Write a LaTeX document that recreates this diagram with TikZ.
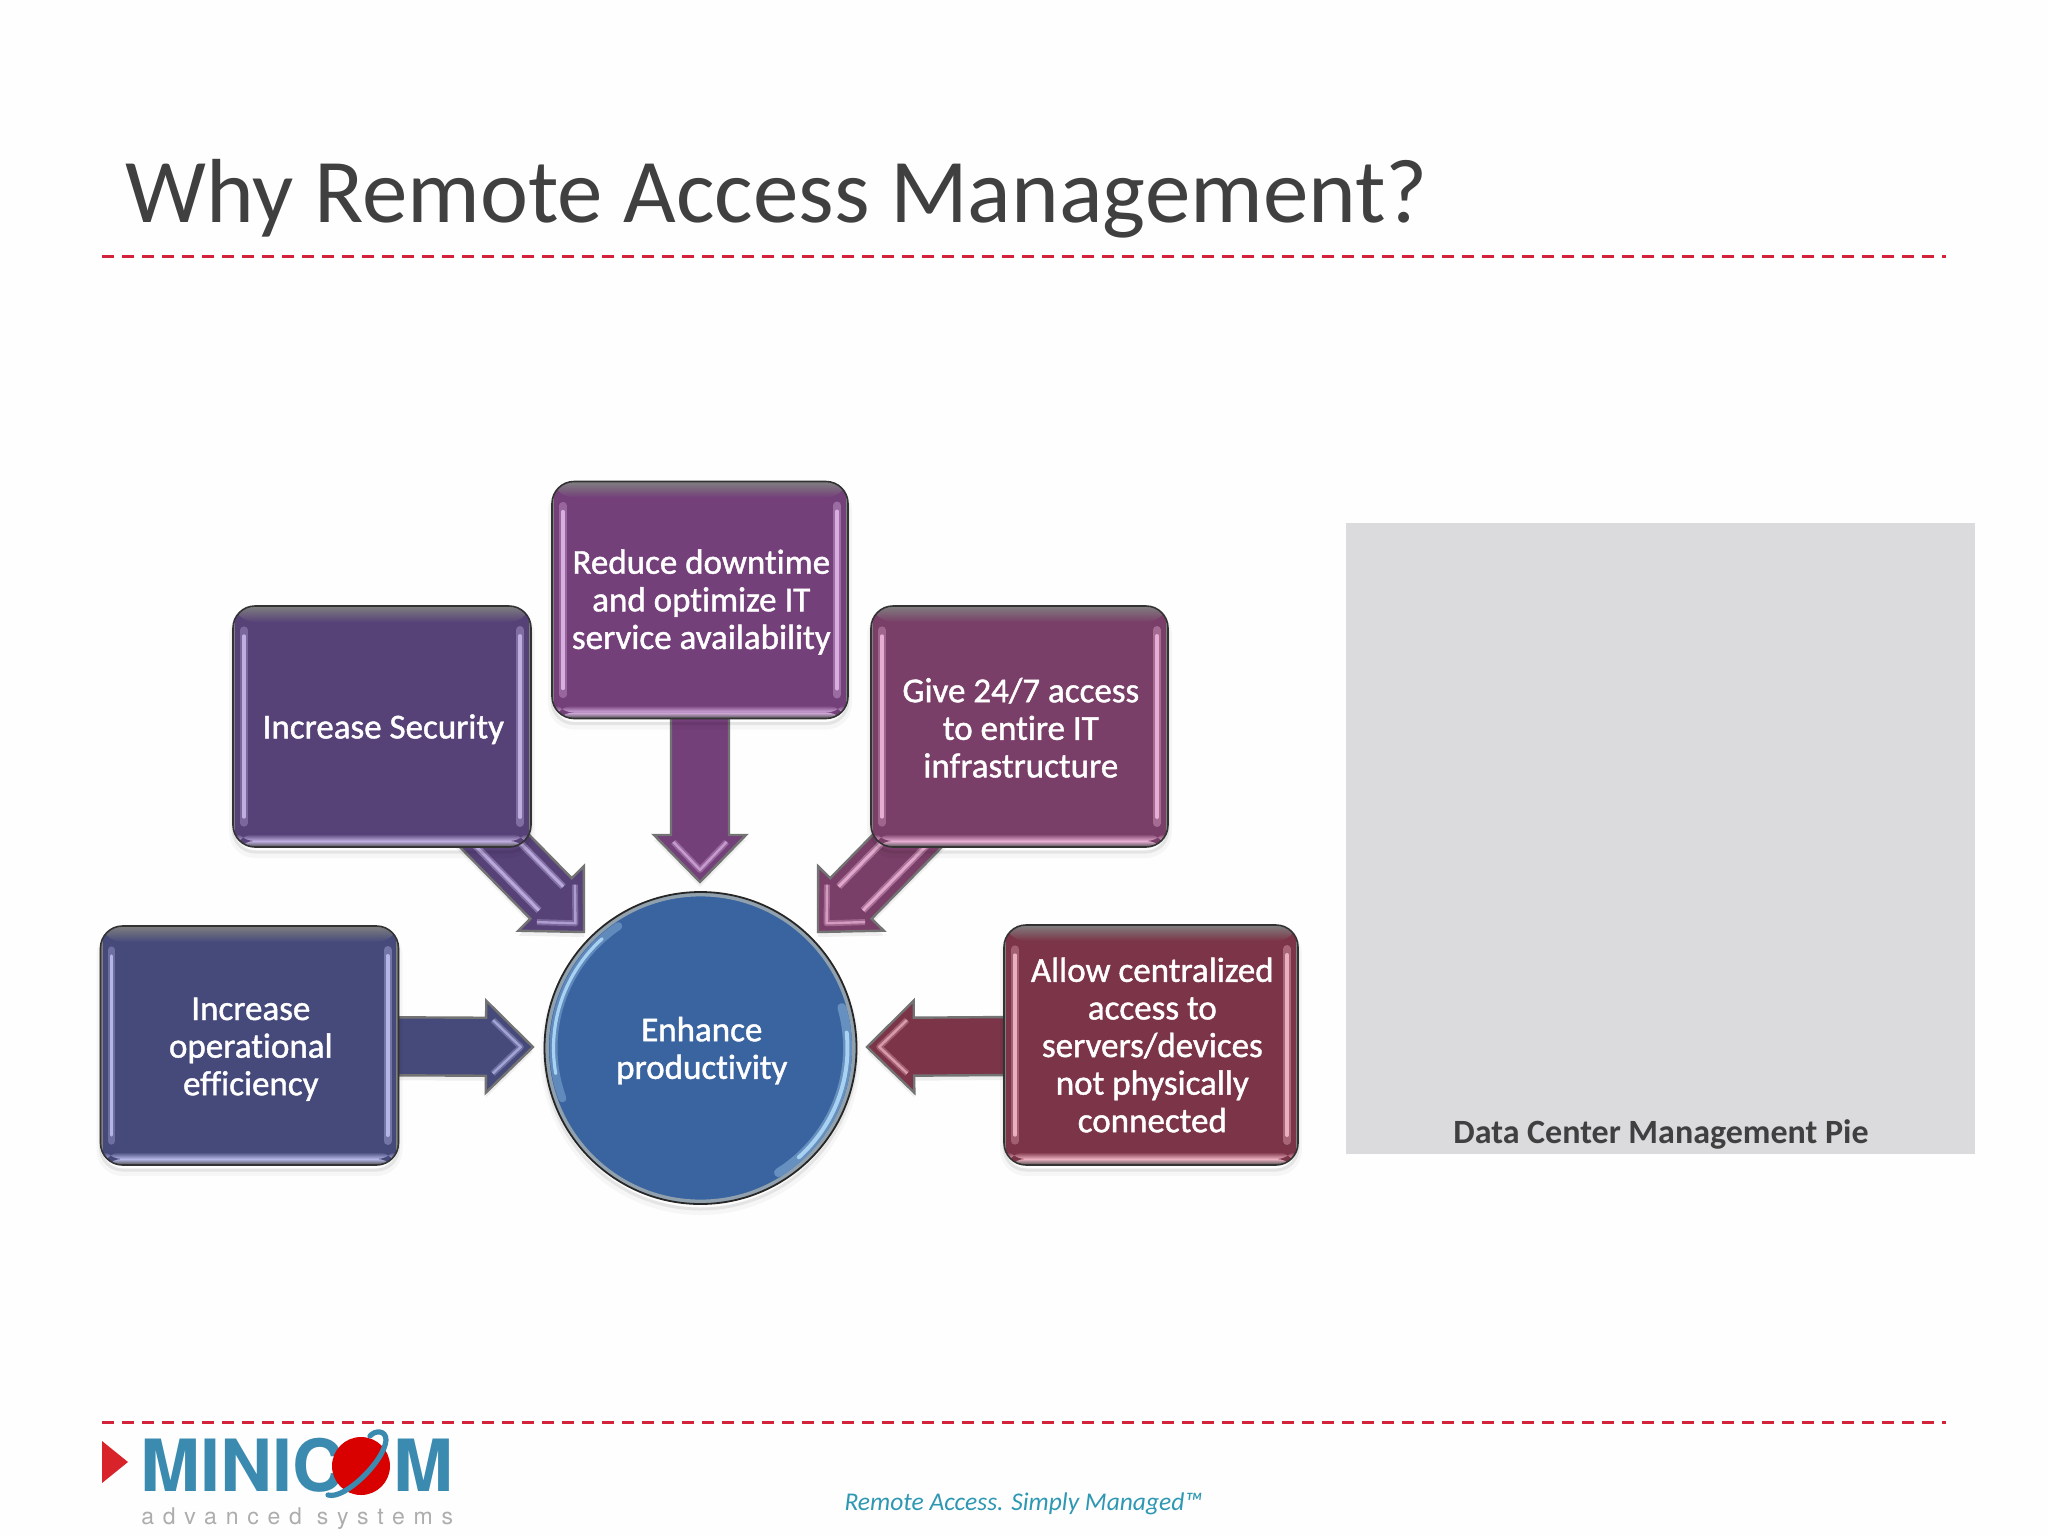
\documentclass[tikz,border=0pt]{standalone}
\usepackage{fontspec}
\setmainfont[RawFeature={-liga}]{Carlito}
\newfontfamily\logofont{TeX Gyre Heros}
\usetikzlibrary{calc}
\definecolor{pagebg}{HTML}{FEFEFE}
\definecolor{titlecol}{HTML}{404040}
\definecolor{dashred}{HTML}{D2233A}
\definecolor{logored}{HTML}{D8232A}
\definecolor{panelgray}{HTML}{DBDADD}
\definecolor{teal}{HTML}{2E98B3}
\definecolor{logoblue}{HTML}{3B8BB0}
\definecolor{effc}{HTML}{464A7A}\definecolor{effl}{HTML}{B4B6E6}
\definecolor{secc}{HTML}{574278}\definecolor{secl}{HTML}{BFAEE0}
\definecolor{topc}{HTML}{74407A}\definecolor{topl}{HTML}{D6AEDF}
\definecolor{givc}{HTML}{7A3F68}\definecolor{givl}{HTML}{E6AED2}
\definecolor{allc}{HTML}{7C3448}\definecolor{alll}{HTML}{EBB0C0}
\definecolor{circ}{HTML}{3A64A0}\definecolor{cirl}{HTML}{A9D2F2}
\tikzset{
  softshadow/.style={
    preaction={draw=black,opacity=.03,line width=4pt,transform canvas={yshift=-3.5pt}},
    preaction={draw=black,opacity=.07,line width=1.5pt,transform canvas={yshift=-2.5pt}}},
  bevelbox/.style 2 args={
    softshadow, rounded corners=11pt, minimum width=#1, minimum height=#2,
    inner sep=0pt, line width=.8pt, draw=black!80},
  boxskin/.style 2 args={fill=#1,
    path picture={
      \coordinate (nw) at (path picture bounding box.north west);
      \coordinate (ne) at (path picture bounding box.north east);
      \coordinate (sw) at (path picture bounding box.south west);
      \coordinate (se) at (path picture bounding box.south east);
      \shade[top color=gray,bottom color=#1] (nw) rectangle ($(ne)+(0,16)$);
      \shade[top color=#1,bottom color=#2] ($(sw)+(0,-13)$) rectangle ($(se)+(0,-6)$);
      \shade[top color=#2,bottom color=black!70] ($(sw)+(0,-6)$) rectangle (se);
      \draw[gray,line width=2.2pt] (nw) -- (sw) (ne) -- (se);
      \draw[#2,opacity=.35,line width=3.6pt,line cap=round] ($(nw)+(11,24)$) -- ($(sw)+(11,-24)$);
      \draw[#2,line width=1.6pt,line cap=round] ($(nw)+(11,30)$) -- ($(sw)+(11,-30)$);
      \draw[#2,opacity=.4,line width=4pt,line cap=round] ($(ne)+(-11,24)$) -- ($(se)+(-11,-24)$);
      \draw[#2,line width=2pt,line cap=round] ($(ne)+(-11,30)$) -- ($(se)+(-11,-30)$);
    }},
  boxtext/.style={inner sep=0pt,align=center,text=white,
    font=\fontsize{17.5pt}{18.8pt}\selectfont\addfontfeature{FakeBold=1.2}},
  arrowbody/.style={draw=black!55,line width=1.2pt,line join=miter},
  panellabel/.style={font=\fontsize{17pt}{20pt}\selectfont\bfseries,text=titlecol},
  dashrule/.style={draw=dashred,line width=1.5pt,dash pattern=on 6pt off 4pt},
}
% \blockarrow{from}{to}{fill}{light}{shaft stripe opacity}
\newcommand{\blockarrow}[5]{%
  \coordinate (bh) at ($(#2)!23.5pt!(#1)$);
  \coordinate (sa) at ($(bh)!14.5pt!90:(#2)$);
  \coordinate (sb) at ($(bh)!14.5pt!-90:(#2)$);
  \coordinate (wa) at ($(bh)!23pt!90:(#2)$);
  \coordinate (wb) at ($(bh)!23pt!-90:(#2)$);
  \coordinate (ta) at ($(#1)!14.5pt!90:(#2)$);
  \coordinate (tb) at ($(#1)!14.5pt!-90:(#2)$);
  \coordinate (ga) at ($(#1)!8.5pt!90:(#2)$);
  \coordinate (gb) at ($(#1)!8.5pt!-90:(#2)$);
  \coordinate (ha) at ($(bh)!8.5pt!90:(#2)$);
  \coordinate (hb) at ($(bh)!8.5pt!-90:(#2)$);
  \coordinate (cg) at ($(bh)!.35!(#2)$);
  \fill[black,opacity=.06,transform canvas={yshift=-2.5pt}] (ta) -- (sa) -- (wa) -- (#2) -- (wb) -- (sb) -- (tb) -- cycle;
  \draw[arrowbody,fill=#3] (ta) -- (sa) -- (wa) -- (#2) -- (wb) -- (sb) -- (tb) -- cycle;
  \draw[#4,opacity=.5*#5,line width=3.4pt] (ga) -- (ha) (gb) -- (hb);
  \draw[#4,opacity=#5,line width=1.5pt] (ga) -- (ha) (gb) -- (hb);
  \draw[#4,opacity=.35,line width=3pt,line join=round] ($(wa)!.42!(cg)$) -- ($(#2)!.4!(cg)$) -- ($(wb)!.42!(cg)$);
  \draw[#4,opacity=.75,line width=1.2pt,line join=round] ($(wa)!.42!(cg)$) -- ($(#2)!.4!(cg)$) -- ($(wb)!.42!(cg)$);
}
\begin{document}
\begin{tikzpicture}[x=0.5pt,y=-0.5pt]
\useasboundingbox (0,0) rectangle (2048,1536);
\fill[pagebg] (0,0) rectangle (2048,1536);

\node[anchor=base west,inner sep=0pt,text=titlecol,font=\fontsize{45.5pt}{50pt}\selectfont] (title) at (125,222) {Why Remote Access Management?};
\coordinate (ruleAL) at (102,256); \coordinate (ruleAR) at (1946,256);
\draw[dashrule] (ruleAL) -- (ruleAR);
\coordinate (ruleBL) at (102,1422); \coordinate (ruleBR) at (1946,1422);
\draw[dashrule] (ruleBL) -- (ruleBR);

% gray panel
\node[fill=panelgray,minimum width=314.5pt,minimum height=315.5pt,inner sep=0pt,anchor=north west] (panel) at (1346,523) {};
\node[panellabel] (panelText) at (1661,1134) {Data Center Management Pie};

% named positions
\coordinate (cEff) at (249.5,1045.5);
\coordinate (cSec) at (382,726.5);
\coordinate (cTop) at (700,600);
\coordinate (cGiv) at (1019.5,726.5);
\coordinate (cAll) at (1151,1045);
\coordinate (tipEff) at (533,1047);
\coordinate (tipSec) at (584,932);
\coordinate (tipTop) at (700,882);
\coordinate (tipGiv) at (818,932);
\coordinate (tipAll) at (867,1047);

\blockarrow{cEff}{tipEff}{effc}{effl}{0}
\blockarrow{cSec}{tipSec}{secc}{secl}{.9}
\blockarrow{cTop}{tipTop}{topc}{topl}{0}
\blockarrow{cGiv}{tipGiv}{givc}{givl}{.9}
\blockarrow{cAll}{tipAll}{allc}{alll}{0}

\node[bevelbox={149pt}{119.5pt},boxskin={effc}{effl}] (eff) at (cEff) {};
\node[boxtext] (effText) at ($(eff)+(1.3,3.7)$) {Increase\\operational\\efficiency};
\node[bevelbox={149pt}{120.5pt},boxskin={secc}{secl}] (sec) at (cSec) {};
\node[boxtext] (secText) at ($(sec)+(1.3,2.7)$) {Increase Security};
\node[bevelbox={148pt}{118.5pt},boxskin={topc}{topl}] (top) at (cTop) {};
\node[boxtext] (topText) at ($(top)+(1.3,2)$) {Reduce downtime\\and optimize IT\\service availability};
\node[bevelbox={148.5pt}{120.5pt},boxskin={givc}{givl}] (giv) at (cGiv) {};
\node[boxtext] (givText) at ($(giv)+(1.3,1.3)$) {Give 24/7 access\\to entire IT\\infrastructure};
\node[bevelbox={147pt}{120pt},boxskin={allc}{alll}] (all) at (cAll) {};
\node[boxtext] (allText) at ($(all)+(1.3,0)$) {Allow centralized\\access to\\servers/devices\\not physically\\connected};

% centre circle
\coordinate (cCir) at (700.5,1048);
\node[circle,softshadow,minimum size=156pt,inner sep=0pt,draw=black!85,line width=.9pt,fill=circ,
  path picture={
    \draw[gray!60!cirl,line width=2.4pt] (cCir) circle (154);
    \draw[cirl,opacity=.35,line width=4pt,line cap=round] ([shift={(160:147)}]cCir) arc[start angle=160,end angle=236,radius=147];
    \draw[cirl,line width=1.6pt,line cap=round] ([shift={(170:147)}]cCir) arc[start angle=170,end angle=228,radius=147];
    \draw[cirl,opacity=.4,line width=4.4pt,line cap=round] ([shift={(-16:147)}]cCir) arc[start angle=-16,end angle=58,radius=147];
    \draw[cirl,line width=2pt,line cap=round] ([shift={(-6:147)}]cCir) arc[start angle=-6,end angle=48,radius=147];
  }] (cir) at (cCir) {};
\node[boxtext] (cirText) at ($(cir)+(1.3,2.7)$) {Enhance\\productivity};

% footer
\node[anchor=base,inner sep=0pt,text=teal,font=\fontsize{12.75pt}{15pt}\selectfont\itshape] (slogan) at (1023.5,1510) {Remote Access. Simply Managed™};

% logo
\fill[logored] (102,1441) -- (128,1462) -- (102,1483) -- cycle;
\node[anchor=base west,inner sep=0pt,text=logoblue,font=\logofont\bfseries\fontsize{36pt}{38pt}\selectfont] (logoA) at (140,1491) {MINIC};
\node[anchor=base east,inner sep=0pt,text=logoblue,font=\logofont\bfseries\fontsize{36pt}{38pt}\selectfont] (logoB) at (454,1491) {M};
\fill[red!85!black] (361,1466) circle (29);
\draw[logoblue,line width=2.6pt,line cap=round] (328,1495) .. controls (345,1500) and (385,1460) .. (386,1440) .. controls (386,1430) and (375,1430) .. (370,1436);
\node[anchor=base west,inner sep=0pt,text=black!32,font=\logofont\fontsize{11.5pt}{13pt}\selectfont\addfontfeature{LetterSpace=38}] (logoC) at (141,1524) {advanced systems};
\end{tikzpicture}
\end{document}
